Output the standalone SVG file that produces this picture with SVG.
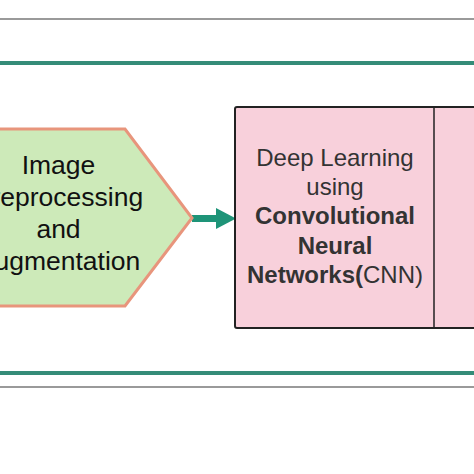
<svg xmlns="http://www.w3.org/2000/svg" width="474" height="474" viewBox="0 0 474 474">
<style>
.t{font-family:"Liberation Sans",Arial,sans-serif;text-anchor:middle}
.hex{font-size:26.5px;fill:#111}
.box{font-size:24px;fill:#333}
.b{font-weight:bold}
</style>
<rect width="474" height="474" fill="#ffffff"/>
<g id="lanes">
<line x1="0" y1="19" x2="474" y2="19" stroke="#9a9a9a" stroke-width="2"/>
<line x1="0" y1="63" x2="474" y2="63" stroke="#358c78" stroke-width="4"/>
<line x1="0" y1="373" x2="474" y2="373" stroke="#358c78" stroke-width="4"/>
<line x1="0" y1="387" x2="474" y2="387" stroke="#9a9a9a" stroke-width="2"/>
</g>
<g id="connectors">
<line x1="192" y1="218.5" x2="218" y2="218.5" stroke="#1e9478" stroke-width="7"/>
<polygon points="216,208 236,218.5 216,229" fill="#1e9478"/>
</g>
<g id="node-preprocessing">
<polygon points="-80,218 -13,129 125,129 192,218 125,306 -13,306" fill="#cdeab9" stroke="#e8957c" stroke-width="3"/>
<text class="t hex" x="58.5" y="174">Image</text>
<text class="t hex" x="58.5" y="206">Preprocessing</text>
<text class="t hex" x="58.5" y="238">and</text>
<text class="t hex" x="58.5" y="270">Augmentation</text>
</g>
<g id="node-cnn">
<rect x="235" y="107" width="260" height="221" rx="2" fill="#f8d0db" stroke="#222222" stroke-width="2"/>
<line x1="434" y1="107" x2="434" y2="328" stroke="#222222" stroke-width="1.5"/>
<text class="t box" x="335" y="166">Deep Learning</text>
<text class="t box" x="335" y="195">using</text>
<text class="t box b" x="335" y="224">Convolutional</text>
<text class="t box b" x="335" y="253.5">Neural</text>
<text class="t box" x="335" y="282.5"><tspan class="b">Networks(</tspan>CNN)</text>
</g>
</svg>
